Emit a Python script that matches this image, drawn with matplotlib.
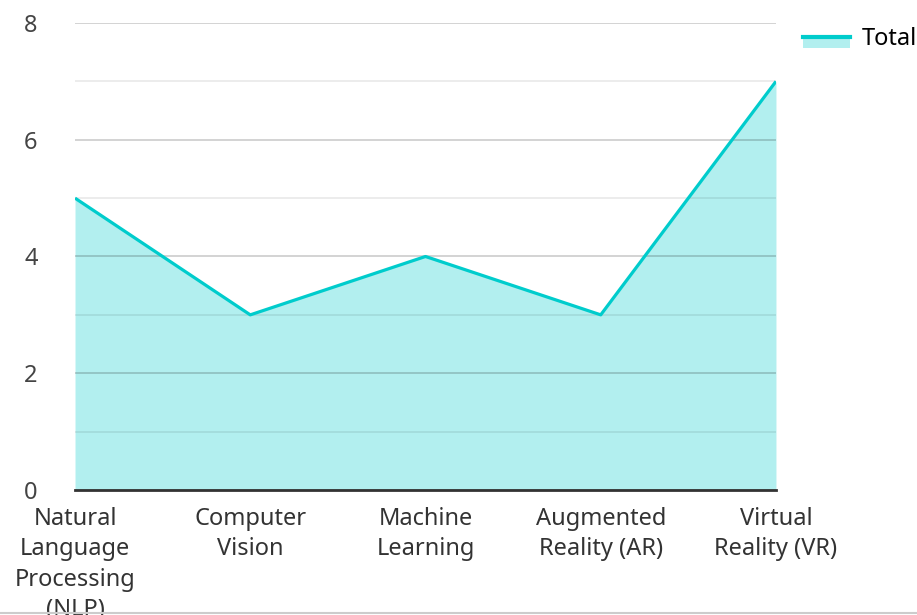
import matplotlib
matplotlib.use("Agg")
import matplotlib.pyplot as plt
from matplotlib.patches import Rectangle
from matplotlib.lines import Line2D
from matplotlib.legend_handler import HandlerBase

plt.rcParams['font.family'] = ['Noto Sans', 'DejaVu Sans']

categories = ["Natural\nLanguage\nProcessing\n(NLP)", "Computer\nVision", "Machine\nLearning",
              "Augmented\nReality (AR)", "Virtual\nReality (VR)"]
totals = [5, 3, 4, 3, 7]
y_ticks = [0, 2, 4, 6, 8]
y_minor = [1, 3, 5, 7]

line_color = '#00cccc'
fill_color = '#b2efef'
fs = 17


class AreaHandler(HandlerBase):
    # filled box with the line drawn along its top edge
    def create_artists(self, legend, orig_handle, xdescent, ydescent,
                       width, height, fontsize, trans):
        top = height * 0.42
        rect = Rectangle((-xdescent, -ydescent), width, top, facecolor=fill_color,
                         edgecolor='none', transform=trans)
        ln = Line2D([-xdescent, -xdescent + width], [top, top], color=line_color,
                    lw=3, transform=trans)
        return [rect, ln]


fig = plt.figure(figsize=(9.17, 6.15), dpi=100)
ax = fig.add_axes([0.0818, 0.2033, 0.7644, 0.7593])

x = list(range(len(categories)))
ax.fill_between(x, totals, 0, color=fill_color, lw=0, zorder=1)
line, = ax.plot(x, totals, color=line_color, lw=2.3, zorder=3, solid_capstyle='butt')

ax.set_xlim(0, len(categories) - 1)
ax.set_ylim(0, 8)
ax.set_yticks(y_ticks)
ax.set_yticks(y_minor, minor=True)
ax.set_xticks(x)
ax.set_xticklabels(categories, fontsize=fs, color='#333333', linespacing=1.36, va='top')
ax.tick_params(axis='y', which='both', length=0, pad=27, labelsize=fs, labelcolor='#444444')
ax.tick_params(axis='x', length=0, pad=12)

ax.grid(axis='y', which='major', color='#000000', alpha=0.2, lw=1.2, zorder=2)
ax.grid(axis='y', which='minor', color='#000000', alpha=0.09, lw=1.2, zorder=2)
ax.set_axisbelow(False)
for s in ['top', 'right', 'left']:
    ax.spines[s].set_visible(False)
ax.spines['bottom'].set_color('#333333')
ax.spines['bottom'].set_linewidth(2)
ax.spines['bottom'].set_zorder(4)

ax.legend([line], ['Total'], handler_map={line: AreaHandler()}, loc='upper left',
          bbox_to_anchor=(0.868, 0.968), bbox_transform=fig.transFigure, frameon=False,
          fontsize=fs, handlelength=2.0, handleheight=1.0, handletextpad=0.5,
          borderaxespad=0, borderpad=0.3)

fig.add_artist(Line2D([0, 1], [0.004, 0.004], transform=fig.transFigure, color='#cccccc', lw=1.5))

fig.savefig('out.png', dpi=100)
